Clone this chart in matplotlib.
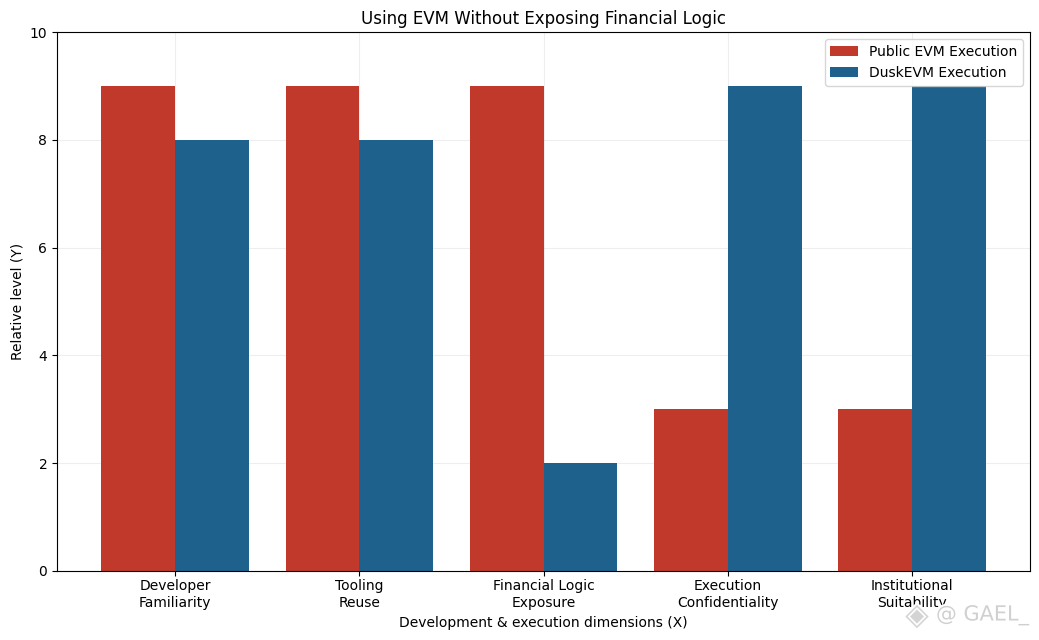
import matplotlib
matplotlib.use("Agg")
import matplotlib.pyplot as plt
import matplotlib.patheffects as pe
import numpy as np

categories = ["Developer\nFamiliarity", "Tooling\nReuse", "Financial Logic\nExposure",
              "Execution\nConfidentiality", "Institutional\nSuitability"]
public_evm = [9, 9, 9, 3, 3]
dusk_evm = [8, 8, 2, 9, 9]

x = np.arange(len(categories))
width = 0.4

fig, ax = plt.subplots(figsize=(10.39, 6.40), dpi=100)
fig.subplots_adjust(left=57/1039, right=1030/1039, top=1-32/640, bottom=1-571/640)

ax.bar(x - width/2, public_evm, width, color="#c0392b", label="Public EVM Execution", zorder=2)
ax.bar(x + width/2, dusk_evm, width, color="#1f618d", label="DuskEVM Execution", zorder=2)

ax.set_title("Using EVM Without Exposing Financial Logic", fontsize=12)
ax.set_xlabel("Development & execution dimensions (X)", labelpad=4.5)
ax.set_ylabel("Relative level (Y)")
ax.set_xticks(x)
ax.set_xticklabels(categories)
ax.tick_params(axis="x", pad=2.5)
ax.set_ylim(0, 10)
ax.set_xlim(-0.6405, 4.64)
ax.grid(True, color="gray", alpha=0.13, linewidth=0.8, zorder=3)
ax.legend(loc="upper right", labelspacing=0.54)

# watermark from the source image
halo = [pe.withStroke(linewidth=3, foreground="white")]
fig.text(917/1039, 1-616/640, "\u25c8", color="#d4d4d4", fontsize=22,
         va="center", ha="center", path_effects=halo)
fig.text(936/1039, 1-615/640, "@ GAEL_", color="#d0d0d0", fontsize=15,
         va="center", ha="left", path_effects=halo)

fig.savefig("out.png", dpi=100)
